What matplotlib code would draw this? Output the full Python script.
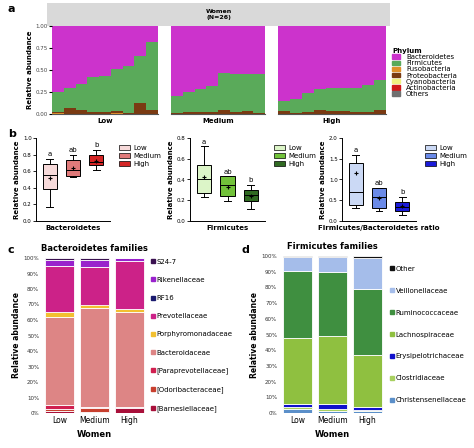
import matplotlib
matplotlib.use("Agg")
import matplotlib.pyplot as plt
import numpy as np
from matplotlib.patches import Patch

W, H = 474, 448
fig = plt.figure(figsize=(W/100, H/100), dpi=100)
plt.rcParams['font.family'] = ['DejaVu Sans']

def ax_px(x0, y0, x1, y1):
    return fig.add_axes([x0/W, 1-y1/H, (x1-x0)/W, (y1-y0)/H])

# ---------------- Panel a data ----------------
groups = ["Low", "Medium", "High"]
phyla = ["Bacteroidetes", "Firmicutes", "Fusobacteria", "Proteobacteria", "Cyanobacteria", "Actinobacteria", "Others"]
phy_colors = ["#cc33cc", "#5aaa5a", "#e0902a", "#7a3a12", "#f0f080", "#d01818", "#707070"]
firm_top = {
    "Low": [0.25, 0.29, 0.34, 0.42, 0.43, 0.51, 0.55, 0.66, 0.82],
    "Medium": [0.20, 0.25, 0.28, 0.32, 0.47, 0.45, 0.45, 0.46],
    "High": [0.15, 0.17, 0.24, 0.28, 0.29, 0.30, 0.30, 0.33, 0.39],
}
proteo = {
    "Low": [0.01, 0.06, 0.04, 0.02, 0.02, 0.02, 0.01, 0.12, 0.05],
    "Medium": [0.015, 0.02, 0.025, 0.025, 0.05, 0.02, 0.03, 0.015],
    "High": [0.03, 0.01, 0.02, 0.04, 0.03, 0.035, 0.02, 0.02, 0.04],
}
fuso = {
    "Low": [0.015, 0.005, 0.0, 0.0, 0.005, 0.01, 0.0, 0.0, 0.0],
    "Medium": [0.0]*8,
    "High": [0.0]*9,
}

strip = ax_px(47, 3, 390, 26)
strip.set_facecolor("#d9d9d9"); strip.set_xticks([]); strip.set_yticks([])
for s in strip.spines.values(): s.set_visible(False)
strip.text(0.5, 0.5, "Women\n(N=26)", ha="center", va="center", fontsize=4.5, fontweight="bold", transform=strip.transAxes)
fig.text(8/W, 1-12/H, "a", fontsize=8, fontweight="bold")

facet_x = [(52, 158), (171, 265), (278, 386)]
for gi, g in enumerate(groups):
    x0, x1 = facet_x[gi]
    ax = ax_px(x0, 26, x1, 114)
    n = len(firm_top[g])
    x = np.arange(n)
    ft = np.array(firm_top[g]); pr = np.array(proteo[g]); fu = np.array(fuso[g])
    ax.bar(x, fu, width=1, color=phy_colors[2])
    ax.bar(x, pr, bottom=fu, width=1, color=phy_colors[3])
    ax.bar(x, ft - pr - fu, bottom=pr + fu, width=1, color=phy_colors[1])
    ax.bar(x, 1 - ft, bottom=ft, width=1, color=phy_colors[0])
    ax.set_xlim(-0.5, n-0.5); ax.set_ylim(0, 1)
    ax.set_xticks([])
    for s in ["top", "right", "left"]: ax.spines[s].set_visible(False)
    ax.spines["bottom"].set_color("#555")
    ax.set_xlabel(g, fontsize=5, fontweight="bold", labelpad=3)
    if gi == 0:
        ax.set_yticks([0, 0.25, 0.5, 0.75, 1.0])
        ax.set_yticklabels(["0.00", "0.25", "0.50", "0.75", "1.00"], fontsize=4, color="#444")
        ax.set_ylabel("Relative abundance", fontsize=5, fontweight="bold", labelpad=2)
        ax.tick_params(axis="y", length=2, pad=1)
    else:
        ax.set_yticks([])
leg_ax = ax_px(392, 48, 474, 115); leg_ax.axis("off")
leg_ax.legend(handles=[Patch(color=c, label=l) for c, l in zip(phy_colors, phyla)], title="Phylum",
              loc="upper left", fontsize=5, title_fontproperties={"size": 5, "weight": "bold"},
              frameon=False, handlelength=1.2, handleheight=0.6, labelspacing=0.02, borderpad=0, borderaxespad=0,
              alignment="left")

# ---------------- Panel b ----------------
fig.text(8/W, 1-137/H, "b", fontsize=8, fontweight="bold")
box_titles = ["Bacteroidetes", "Firmicutes", "Firmicutes/Bacteroidetes ratio"]
box_stats = [
    [(0.17, 0.39, 0.56, 0.69, 0.75, 0.52), (0.53, 0.54, 0.62, 0.74, 0.80, 0.64), (0.61, 0.68, 0.71, 0.80, 0.86, 0.72)],
    [(0.23, 0.27, 0.40, 0.54, 0.72, 0.42), (0.19, 0.24, 0.35, 0.43, 0.43, 0.33), (0.12, 0.19, 0.25, 0.30, 0.35, 0.24)],
    [(0.32, 0.38, 0.71, 1.40, 1.60, 1.16), (0.24, 0.32, 0.59, 0.79, 0.80, 0.56), (0.15, 0.24, 0.34, 0.45, 0.59, 0.35)],
]
box_letters = ["a", "ab", "b"]
box_colors = [["#f7dada", "#e07a7a", "#d42525"], ["#dcf5c8", "#72c23a", "#306a22"], ["#cbd9f5", "#6a8ae8", "#1a1ad8"]]
ylims = [(0, 1.0, [0, 0.2, 0.4, 0.6, 0.8, 1.0], ["0.0", "0.2", "0.4", "0.6", "0.8", "1.0"]),
         (0, 0.8, [0, 0.2, 0.4, 0.6, 0.8], ["0.0", "0.2", "0.4", "0.6", "0.8"]),
         (0, 2.0, [0, 0.5, 1.0, 1.5, 2.0], ["0.0", "0.5", "1.0", "1.5", "2.0"])]
bx = [(36, 110), (190, 265), (342, 416)]
for i in range(3):
    ax = ax_px(bx[i][0], 138, bx[i][1], 221)
    stats = [dict(whislo=s[0], q1=s[1], med=s[2], q3=s[3], whishi=s[4], mean=s[5], fliers=[]) for s in box_stats[i]]
    bp = ax.bxp(stats, positions=[1, 2, 3], widths=0.6, patch_artist=True, showmeans=True,
                meanprops=dict(marker="+", markeredgecolor="k", markersize=3.5, markeredgewidth=0.8),
                medianprops=dict(color="k", lw=0.7), whiskerprops=dict(lw=0.7), capprops=dict(lw=0.7),
                boxprops=dict(lw=0.7))
    for p, c in zip(bp["boxes"], box_colors[i]): p.set_facecolor(c)
    ymin, ymax, tk, tl = ylims[i]
    for j, s in enumerate(box_stats[i]):
        ax.text(j+1, s[4] + ymax*0.02, box_letters[j], ha="center", va="bottom", fontsize=5)
    ax.set_ylim(ymin, ymax); ax.set_xlim(0.4, 3.6)
    ax.set_yticks(tk); ax.set_yticklabels(tl, fontsize=4)
    ax.tick_params(axis="y", length=2, pad=1, width=0.6)
    ax.set_xticks([2]); ax.set_xticklabels([box_titles[i]], fontsize=5, fontweight="bold")
    ax.tick_params(axis="x", length=0, pad=3)
    for s in ["top", "right"]: ax.spines[s].set_visible(False)
    for s in ["left", "bottom"]: ax.spines[s].set_linewidth(0.7)
    ax.set_ylabel("Relative abundance", fontsize=5, fontweight="bold", labelpad=2)
    ax.legend(handles=[Patch(facecolor=c, edgecolor="k", lw=0.5, label=l) for c, l in zip(box_colors[i], groups)],
              loc="upper left", bbox_to_anchor=(1.08, 0.95), fontsize=5, frameon=False,
              handlelength=1.6, handleheight=0.7, labelspacing=0.3, borderaxespad=0, handletextpad=0.5)

# ---------------- Panels c, d ----------------
bact_fams = ["[Barnesiellaceae]", "[Odoribacteraceae]", "[Paraprevotellaceae]", "Bacteroidaceae",
             "Porphyromonadaceae", "Prevotellaceae", "RF16", "Rikenellaceae", "S24-7"]
bact_colors = ["#a8103a", "#c8402f", "#d02050", "#dd8585", "#f2c030", "#cc2288", "#1a1a6e", "#9922cc", "#3a1050"]
bact_vals = {
    "Low":    [1.0, 1.5, 2.5, 57.0, 3.0, 30.0, 0.0, 4.0, 1.0],
    "Medium": [0.5, 3.0, 0.5, 64.0, 2.0, 24.0, 0.5, 4.0, 1.5],
    "High":   [3.0, 0.5, 0.5, 61.0, 2.0, 31.0, 0.0, 2.0, 0.0],
}
firm_fams = ["Christensenellaceae", "Clostridiaceae", "Erysipelotrichaceae", "Lachnospiraceae",
             "Ruminococcaceae", "Veillonellaceae", "Other"]
firm_colors = ["#5b8fc9", "#a8d060", "#1010cc", "#8fc040", "#3f8f40", "#a5bdea", "#111111"]
firm_vals = {
    "Low":    [2.5, 1.5, 1.5, 42.0, 43.0, 9.0, 0.5],
    "Medium": [1.0, 1.5, 3.5, 43.0, 41.0, 9.5, 0.5],
    "High":   [1.5, 0.5, 2.0, 33.0, 42.0, 20.0, 1.0],
}

def stacked(ax, fams, colors, vals, title, legx, spacing):
    x = np.arange(3)
    bottom = np.zeros(3)
    for k, (f, c) in enumerate(zip(fams, colors)):
        v = np.array([vals[g][k] for g in groups])
        ax.bar(x, v, bottom=bottom, width=0.82, color=c, edgecolor="white", linewidth=0.6)
        bottom += v
    ax.set_xlim(-0.5, 2.5); ax.set_ylim(0, 100)
    ax.set_yticks(range(0, 101, 10)); ax.set_yticklabels([f"{t}%" for t in range(0, 101, 10)], fontsize=4, color="#333")
    ax.tick_params(axis="y", length=0, pad=2)
    ax.set_xticks(x); ax.set_xticklabels(groups, fontsize=5.5); ax.tick_params(axis="x", length=0, pad=2)
    for s in ax.spines.values(): s.set_visible(False)
    ax.set_xlabel("Women", fontsize=6, fontweight="bold", labelpad=4)
    ax.set_ylabel("Relative abundance", fontsize=5.5, fontweight="bold", labelpad=2)
    ax.set_title(title, fontsize=6, fontweight="bold", pad=5)
    hs = [plt.Line2D([], [], marker="s", ls="", color=c, markersize=2.5, label=f) for f, c in zip(fams, colors)][::-1]
    ax.legend(handles=hs, loc="center left", bbox_to_anchor=(legx, 0.5), fontsize=5, frameon=False,
              handlelength=0.4, handletextpad=0.3, labelspacing=spacing, borderaxespad=0)

fig.text(8/W, 1-253/H, "c", fontsize=8, fontweight="bold")
axc = ax_px(42, 258, 147, 413)
stacked(axc, bact_fams, bact_colors, bact_vals, "Bacteroidetes families", 1.02, 1.75)
fig.text(242/W, 1-253/H, "d", fontsize=8, fontweight="bold")
axd = ax_px(280, 256, 385, 413)
stacked(axd, firm_fams, firm_colors, firm_vals, "Firmicutes families", 1.03, 2.3)

fig.savefig("out.png", dpi=100)
